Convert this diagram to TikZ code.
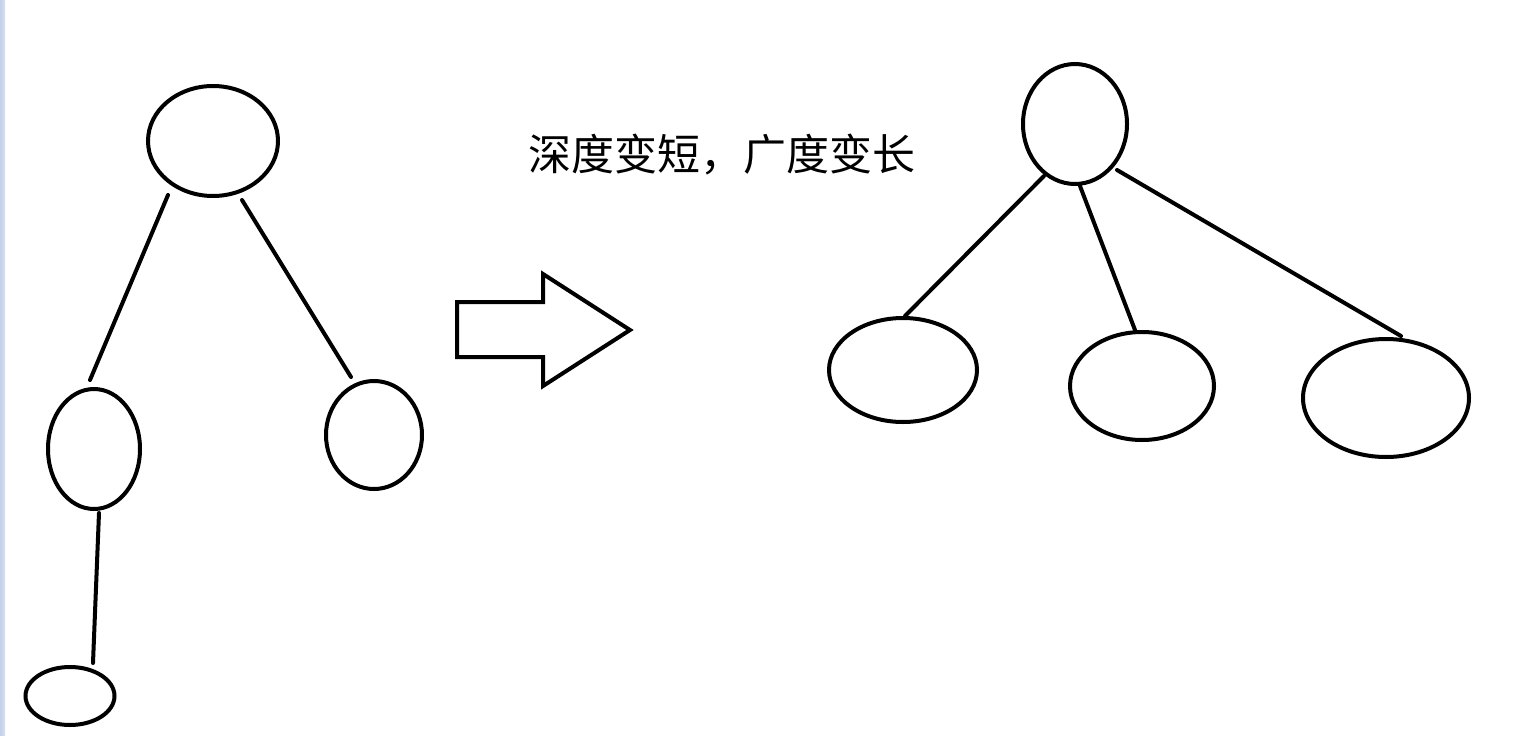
\documentclass[tikz,border=0pt]{standalone}
\usepackage{fontspec}
\newfontfamily\cjk{Noto Sans CJK SC}
\usetikzlibrary{shapes.geometric}
\begin{document}
\begin{tikzpicture}[x=1pt,y=-1pt,
  tnode/.style={draw=black,line width=4pt,ellipse,inner sep=0pt},
  edge/.style={draw=black,line width=4pt,line cap=round}]
\useasboundingbox (0,0) rectangle (1540,736);
\fill[white] (0,0) rectangle (1540,736);
\shade[left color={rgb,255:red,196;green,208;blue,230},right color={rgb,255:red,214;green,224;blue,240}] (0,0) rectangle (5,736);
% left tree
\node[tnode,minimum width=130pt,minimum height=110pt] (L0) at (213,141) {};
\node[tnode,minimum width=92pt,minimum height=120pt] (L1) at (94,449) {};
\node[tnode,minimum width=96pt,minimum height=108pt] (L2) at (374,435) {};
\node[tnode,minimum width=89pt,minimum height=58pt] (L3) at (70,696) {};
\coordinate (a1) at (168,195); \coordinate (a2) at (90,380);
\coordinate (b1) at (242,200); \coordinate (b2) at (351,377);
\coordinate (c1) at (99,513); \coordinate (c2) at (93,663);
\draw[edge] (a1) -- (a2);
\draw[edge] (b1) -- (b2);
\draw[edge] (c1) -- (c2);
% arrow
\draw[line width=4pt,line join=miter] (457,302) -- (543,302) -- (543,274) -- (630,330) -- (543,386) -- (543,357) -- (457,357) -- cycle;
\node[font=\cjk\fontsize{43pt}{43pt}\selectfont,anchor=center,inner sep=0pt] (t) at (722,155) {深度变短，广度变长};
% right tree
\node[tnode,minimum width=104pt,minimum height=120pt] (R0) at (1075,124) {};
\node[tnode,minimum width=148pt,minimum height=104pt] (R1) at (903,370) {};
\node[tnode,minimum width=144pt,minimum height=108pt] (R2) at (1142,386) {};
\node[tnode,minimum width=166pt,minimum height=118pt] (R3) at (1386,398) {};
\coordinate (d1) at (1044,176); \coordinate (d2) at (905,316);
\coordinate (e1) at (1080,186); \coordinate (e2) at (1135,330);
\coordinate (f1) at (1117,170); \coordinate (f2) at (1401,336);
\draw[edge] (d1) -- (d2);
\draw[edge] (e1) -- (e2);
\draw[edge] (f1) -- (f2);
\end{tikzpicture}
\end{document}
